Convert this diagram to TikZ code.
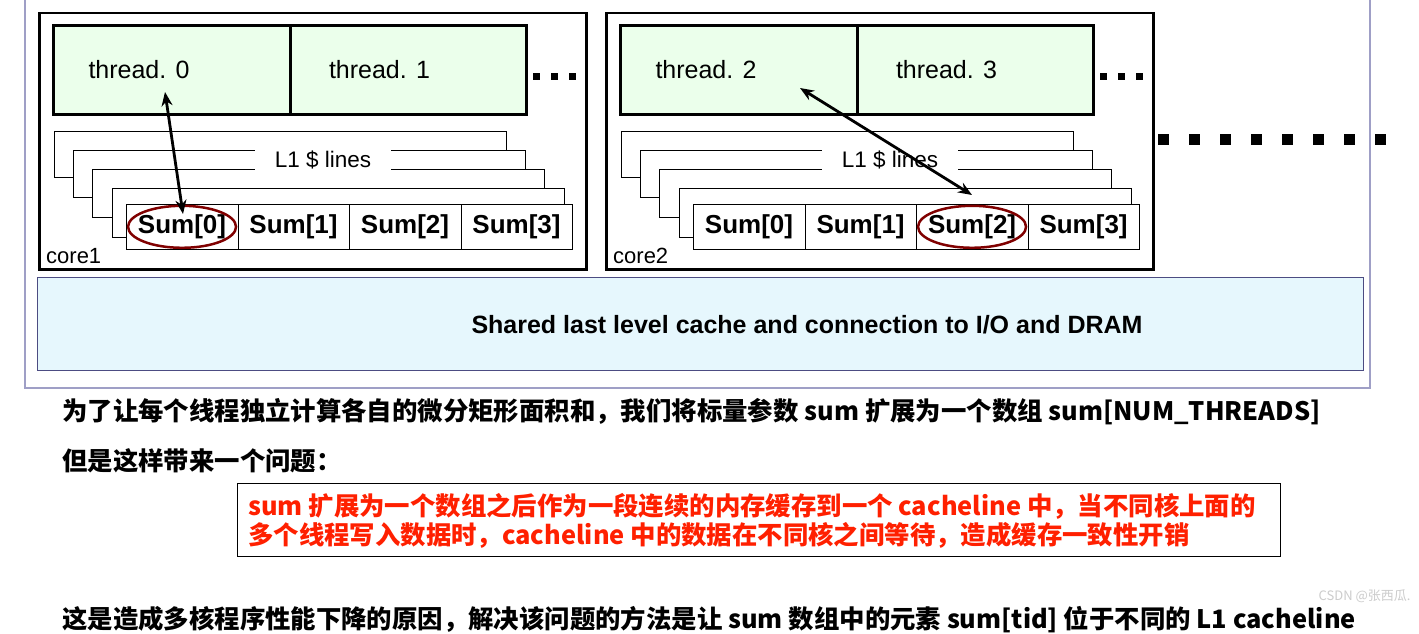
\documentclass[tikz,border=0pt]{standalone}
\usepackage{fontspec}
\usetikzlibrary{shapes.geometric,arrows.meta}
\setmainfont{Liberation Sans}
\newfontfamily\cjk{Noto Sans CJK SC}
\begin{document}
\begin{tikzpicture}[x=1pt,y=-1pt,
  thr/.style={draw,line width=3pt,fill=green!8},
  lay/.style={draw,line width=0.9pt,fill=white},
  cell/.style={draw,line width=0.6pt,fill=white,minimum height=45pt,inner sep=0pt,font=\bfseries\fontsize{26}{28}\selectfont},
  ring/.style={draw=red!50!black,line width=2.5pt},
  dbl/.style={<->,>={Stealth[length=14pt,width=11pt]},line width=2.8pt},
  cn/.style={font=\bfseries\cjk\fontsize{25.4}{27}\selectfont,anchor=west,inner sep=0pt}]
\useasboundingbox (0,0) rectangle (1419,634);
\fill[white] (0,0) rectangle (1419,634);
\draw[blue!25!gray!60,line width=1.2pt] (25,-5) -- (25,388) -- (1370,388) -- (1370,-5);
\foreach \o/\c/\a/\b/\e/\rc in {0/1/0/1/0/0, 567/2/2/3/2/1}{
  \begin{scope}[xshift=\o]
  \node[draw,line width=2.5pt,minimum width=547pt,minimum height=256pt,anchor=north west,inner sep=0pt] (core\c) at (38,12) {};
  \node[thr,minimum width=237pt,minimum height=89pt,anchor=north west,inner sep=0pt,font=\fontsize{25}{27}\selectfont] (t\a) at (52,24) {\hspace*{-66pt}thread. \a};
  \node[thr,minimum width=236pt,minimum height=89pt,anchor=north west,inner sep=0pt,font=\fontsize{25}{27}\selectfont] (t\b) at (289,24) {\hspace*{-58pt}thread. \b};
  \foreach \d in {0,1,2} \fill (533+\d*18,73) rectangle ++(7,7);
  \draw[lay] (54,131) rectangle (506,177);
  \draw[lay] (73,150) rectangle (525,197);
  \draw[lay] (92,169) rectangle (544,217);
  \draw[lay] (112,188) rectangle (564,237);
  \node[fill=white,inner xsep=20pt,inner ysep=1pt,font=\fontsize{22.5}{24}\selectfont] (l1c\c) at (323,160) {L1 \$ lines};
  \foreach \i/\x in {0/126,1/237.5,2/349,3/460.5}
    \node[cell,minimum width=111.5pt,anchor=north west] (s\c\i) at (\x,204) {Sum[\i]};
  \node[ring,ellipse,minimum width=108pt,minimum height=42pt,inner sep=0pt] (e\c) at (s\c\e.center) {};
  \node[anchor=south west,inner sep=0pt,font=\fontsize{22}{24}\selectfont] (lab\c) at (46,264) {core\c};
  \end{scope}}
\draw[dbl] (165,92) -- (183,214);
\draw[dbl] (800,88) -- (972,195);
\foreach \d in {0,...,7} \fill (1158+\d*31,134) rectangle ++(11,11);
\node[draw=blue!30!black!70,line width=1.2pt,fill=cyan!10,minimum width=1326pt,minimum height=93pt,anchor=north west,inner sep=0pt] (llc) at (37,277) {};
\node[font=\bfseries\fontsize{25}{27}\selectfont] (llct) at (807,325) {Shared last level cache and connection to I/O and DRAM};
\node[cn] (p1) at (62,412) {为了让每个线程独立计算各自的微分矩形面积和，我们将标量参数 sum 扩展为一个数组 sum[NUM\_THREADS]};
\node[cn] (p2) at (62,461) {但是这样带来一个问题：};
\node[draw,line width=1pt,minimum width=1043pt,minimum height=73pt,anchor=north west,inner sep=0pt] (rb) at (237,483) {};
\node[cn,text=red!75!orange] (r1) at (248,506) {sum 扩展为一个数组之后作为一段连续的内存缓存到一个 cacheline 中，当不同核上面的};
\node[cn,text=red!75!orange] (r2) at (248,535) {多个线程写入数据时，cacheline 中的数据在不同核之间等待，造成缓存一致性开销};
\node[cn] (p3) at (62,620) {这是造成多核程序性能下降的原因，解决该问题的方法是让 sum 数组中的元素 sum[tid] 位于不同的 L1 cacheline};
\node[text=gray!40,anchor=east,font=\cjk\fontsize{13}{15}\selectfont] (wm) at (1414,596) {CSDN @张西瓜.};
\end{tikzpicture}
\end{document}
